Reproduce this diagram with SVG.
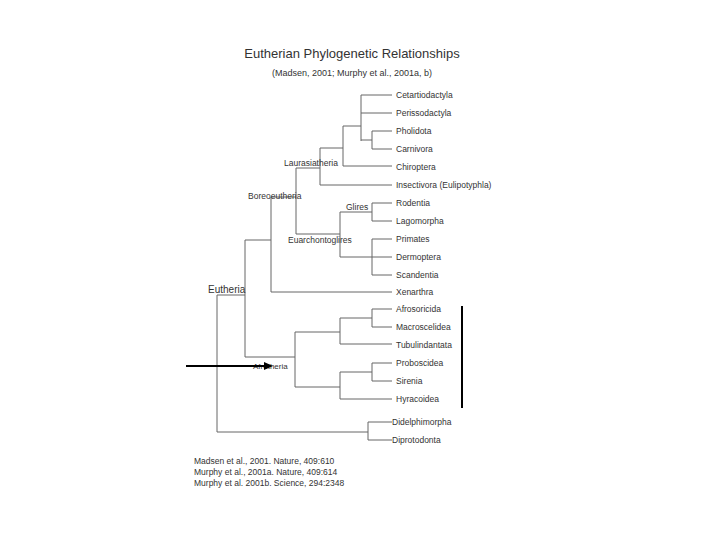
<svg xmlns="http://www.w3.org/2000/svg" width="720" height="540" viewBox="0 0 720 540">
<style>
text{font-family:"Liberation Sans",Arial,sans-serif;fill:#333}
.l{font-size:8.5px}
.b{fill:none;stroke:#666;stroke-width:1}
</style>
<rect width="720" height="540" fill="#fff"/>
<text x="352" y="58" text-anchor="middle" font-size="13">Eutherian Phylogenetic Relationships</text>
<text x="352" y="76" text-anchor="middle" font-size="9">(Madsen, 2001; Murphy et al., 2001a, b)</text>
<g id="connectors" class="b">
<path d="M361,95H392M361,113H392M361,95V141M372,131H392M372,149H392M372,131V149M361,140H372"/>
<path d="M343,126H361M343,126V166M343,166H392M320,148H343M320,148V185M320,185H392"/>
<path d="M372,203H392M372,221H392M372,203V221M340,212H372M372,239H392M372,257H392M372,275H392M372,239V275M340,257H372M340,212V257"/>
<path d="M296,168H320M296,234H340M296,168V234M271,197H296M271,197V292M271,292H392M245,240H271"/>
<path d="M372,309H392M372,327H392M372,309V327M340,318H372M340,344H392M340,318V344M295,332H340"/>
<path d="M372,363H392M372,381H392M372,363V381M340,372H372M340,399H392M340,372V399M295,387H340M295,332V387M245,357H295M245,240V357"/>
<path d="M217,295H245M217,295V432M217,432H368M368,422H392M368,440H392M368,422V440"/>
</g>
<g id="leaves" class="l">
<text x="396" y="98">Cetartiodactyla</text>
<text x="396" y="116">Perissodactyla</text>
<text x="396" y="134">Pholidota</text>
<text x="396" y="152">Carnivora</text>
<text x="396" y="170">Chiroptera</text>
<text x="396" y="188">Insectivora (Eulipotyphla)</text>
<text x="396" y="206">Rodentia</text>
<text x="396" y="224">Lagomorpha</text>
<text x="396" y="242">Primates</text>
<text x="396" y="260">Dermoptera</text>
<text x="396" y="278">Scandentia</text>
<text x="396" y="295">Xenarthra</text>
<text x="396" y="312">Afrosoricida</text>
<text x="396" y="330">Macroscelidea</text>
<text x="396" y="348">Tubulindantata</text>
<text x="396" y="366">Proboscidea</text>
<text x="396" y="384">Sirenia</text>
<text x="396" y="402">Hyracoidea</text>
<text x="392" y="425">Didelphimorpha</text>
<text x="392" y="443">Diprotodonta</text>
</g>
<g id="clades" class="l">
<text x="284" y="166">Laurasiatheria</text>
<text x="248" y="199">Boreoeutheria</text>
<text x="346" y="210">Glires</text>
<text x="288" y="243">Euarchontoglires</text>
<text x="208" y="293" font-size="10">Eutheria</text>
<text x="253" y="369" font-size="8">Afrotheria</text>
</g>
<g id="arrow">
<line x1="186" y1="366" x2="266" y2="366" stroke="#000" stroke-width="2"/>
<polygon points="273,366 264,362 264,370" fill="#000"/>
</g>
<line id="bar" x1="462" y1="306" x2="462" y2="408" stroke="#000" stroke-width="2"/>
<g id="refs" class="l">
<text x="194" y="464">Madsen et al., 2001. Nature, 409:610</text>
<text x="194" y="475">Murphy et al., 2001a. Nature, 409:614</text>
<text x="194" y="486">Murphy et al. 2001b. Science, 294:2348</text>
</g>
</svg>
